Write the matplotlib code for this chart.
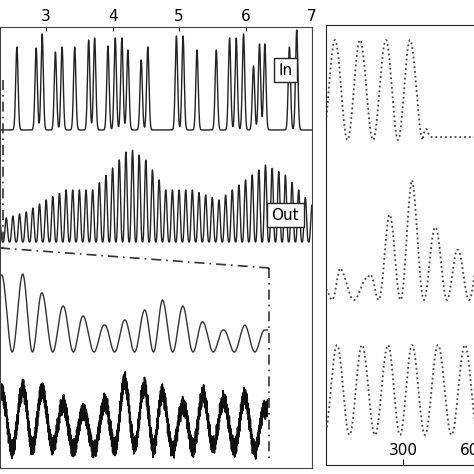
import numpy as np
import matplotlib
matplotlib.use("Agg")
import matplotlib.pyplot as plt

# ---- data (y in panel units, top of panel = small) ----
top_ticks = [3, 4, 5, 6, 7]
in_peak_t = [2.56, 2.85, 2.94, 3.14, 3.24, 3.43, 3.64, 3.73, 3.93, 4.04, 4.14, 4.23, 4.43, 4.53, 4.96, 5.06, 5.27, 5.56, 5.76, 5.86, 5.97, 6.12, 6.21, 6.29, 6.66, 6.77]
in_peak_y = [47, 48, 34, 52, 47, 47, 40, 38, 46, 38, 38, 50, 60, 47, 36, 36, 50, 50, 38, 38, 34, 66, 44, 44, 47, 30]
out_env_t = [2.3, 2.7, 3.0, 3.3, 3.7, 4.0, 4.25, 4.5, 4.8, 5.2, 5.6, 6.0, 6.3, 6.6, 7.0]
out_env_y = [220, 212, 200, 190, 190, 168, 148, 160, 190, 190, 200, 180, 165, 175, 205]
out_period = 0.1
sm_peak_t = [2.33, 2.65, 2.94, 3.26, 3.56, 3.88, 4.18, 4.48, 4.75, 5.06, 5.36, 5.67, 5.99, 6.29]
sm_peak_y = [275, 274, 293, 306, 316, 325, 320, 310, 300, 306, 322, 330, 325, 330]
nz_peak_y = [390, 388, 392, 405, 410, 402, 382, 388, 392, 405, 395, 402, 395, 408]
r_top_peaks_x = [-16, 9, 34, 60, 84, 97]
r_top_phase = [0, 1, 2, 3, 4, 4.5]
r_mid_peaks_x = [-2, 14, 42, 63, 86, 110, 132, 154]
r_mid_peaks_y = [290, 268, 278, 215, 180, 228, 250, 250]
r_bot_peaks_x = [-14, 11, 36, 62, 86, 112, 139, 165]
right_ticks = [300, 600]

fig = plt.figure(figsize=(4.74, 4.74), dpi=100)
axL = fig.add_axes([0, 6/474, 312/474, 441/474])
axL.set_xlim(2.306, 7.0)
axL.set_ylim(468, 27)

t = np.linspace(2.3, 7.0, 3000)
y = np.full_like(t, 130.0)
for pt, py in zip(in_peak_t, in_peak_y):
    y -= (130 - py) * np.exp(-((t - pt) / 0.025) ** 2)
axL.plot(t, y, color='#222', lw=1.0)
env = np.interp(t, out_env_t, out_env_y)
y2 = 242 - (242 - env) * (0.5 + 0.5 * np.cos(2 * np.pi * (t - 2.3) / out_period)) ** 1.5
axL.plot(t, y2, color='#222', lw=1.0)
tt = np.linspace(2.306, 6.33, 2000)
pk = np.interp(tt, sm_peak_t, sm_peak_y)
ph = np.interp(tt, sm_peak_t, np.arange(len(sm_peak_t)))
axL.plot(tt, 352 - (352 - pk) * (0.5 + 0.5 * np.cos(2 * np.pi * ph)), color='#333', lw=1.0)
pk2 = np.interp(tt, sm_peak_t, nz_peak_y)
jit = 5 * np.sin(tt * 517) + 4 * np.sin(tt * 911 + 1) + 3 * np.sin(tt * 1433)
axL.plot(tt, 448 - (448 - pk2) * (0.5 + 0.5 * np.cos(2 * np.pi * ph)) + jit, color='#111', lw=1.2)
dd = (0, (6, 3, 1, 3))
axL.plot([2.35, 2.35], [80, 248], color='#333', lw=1.2, ls=dd)
axL.plot([2.306, 6.36], [248, 268], color='#333', lw=1.2, ls=dd)
axL.plot([6.36, 6.36], [268, 460], color='#333', lw=1.2, ls=dd)
for lab, yy in [("In", 70), ("Out", 215)]:
    axL.text(6.6, yy, lab, fontsize=11, ha='center', va='center',
             bbox=dict(boxstyle='square,pad=0.3', fc='white', ec='#222', lw=1))
axL.xaxis.tick_top()
axL.set_xticks(top_ticks)
axL.tick_params(axis='x', direction='in', length=3, labelsize=11, pad=2)
axL.set_yticks([])
for s in axL.spines.values():
    s.set_color('#444')

axR = fig.add_axes([326/474, 9/474, 200/474, 440/474])
axR.set_xlim(-25, 820)
axR.set_ylim(465, 25)
def px2x(p):
    return -25 + p * 845 / 200
xs = np.linspace(0, 150, 1500)
pht = np.interp(xs, r_top_peaks_x, r_top_phase)
yt = 140 - 100 * (0.5 + 0.5 * np.cos(2 * np.pi * pht))
yt = np.where(xs > 97, 137 - 8 * np.exp(-((xs - 100) / 2.5) ** 2), yt)
axR.plot(px2x(xs), yt, color='#444', lw=1.3, ls=':')
pm = np.interp(xs, r_mid_peaks_x, r_mid_peaks_y)
phm = np.interp(xs, r_mid_peaks_x, np.arange(len(r_mid_peaks_x)))
axR.plot(px2x(xs), 300 - (300 - pm) * (0.5 + 0.5 * np.cos(2 * np.pi * phm)), color='#444', lw=1.3, ls=':')
phb = np.interp(xs, r_bot_peaks_x, np.arange(len(r_bot_peaks_x)))
axR.plot(px2x(xs), 435 - 90 * (0.5 + 0.5 * np.cos(2 * np.pi * phb)), color='#444', lw=1.3, ls=':')
axR.set_xticks(right_ticks)
axR.tick_params(axis='x', direction='in', length=4, labelsize=11, pad=-16)
axR.set_yticks([])
for s in axR.spines.values():
    s.set_color('#222')

fig.savefig("out.png", dpi=100)
